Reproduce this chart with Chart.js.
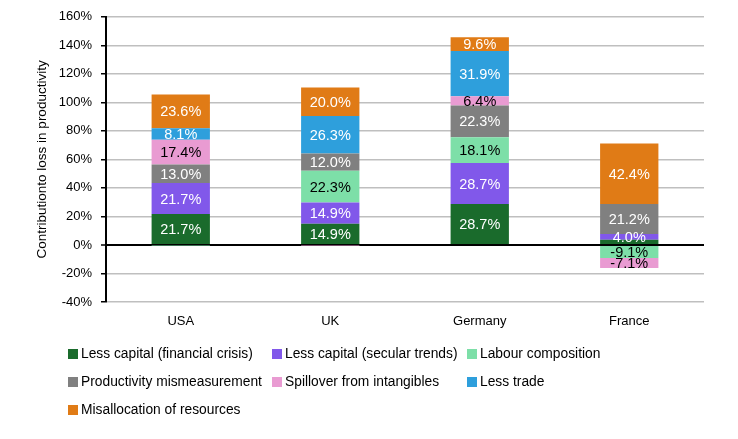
<!DOCTYPE html>
<html lang="en">
<head>
<meta charset="UTF-8">
<title>Contribution to loss in productivity</title>
<script src="https://cdn.jsdelivr.net/npm/chart.js"></script>
<style>
  body { margin: 0; background: #fff; }
  #wrap { position: relative; width: 738px; height: 439px; }
  #legend { position: absolute; left: 0; top: 0; width: 738px; height: 439px; pointer-events: none;
            font-family: "Liberation Sans", Arial, sans-serif; font-size: 13.8px; color: #000; }
  .item { position: absolute; white-space: nowrap; line-height: 16px; }
  .box { display: inline-block; width: 10px; height: 10px; margin-right: 3px; vertical-align: -1px; }
</style>
</head>
<body>
<div id="wrap">
  <canvas id="myChart" width="738" height="439"></canvas>
  <div id="legend"></div>
</div>

<script>
// data
const countries = ["USA", "UK", "Germany", "France"];

const lessCapitalCrisis  = [21.7, 14.9, 28.7, 3.6];
const lessCapitalSecular = [21.7, 14.9, 28.7, 4.0];
const labourComposition  = [-0.3, 22.3, 18.1, -9.1];
const mismeasurement     = [13.0, 12.0, 22.3, 21.2];
const spillover          = [17.4, -0.3, 6.4, -7.1];
const lessTrade          = [8.1, 26.3, 31.9, 0];
const misallocation      = [23.6, 20.0, 9.6, 42.4];

const yTicks = [-40, -20, 0, 20, 40, 60, 80, 100, 120, 140, 160];

const series = [
  { label: "Less capital (financial crisis)", data: lessCapitalCrisis, color: "#1a6b2c", text: "#fff" },
  { label: "Less capital (secular trends)", data: lessCapitalSecular, color: "#8158ea", text: "#fff" },
  { label: "Labour composition", data: labourComposition, color: "#7ddfa8", text: "#000" },
  { label: "Productivity mismeasurement", data: mismeasurement, color: "#808080", text: "#fff" },
  { label: "Spillover from intangibles", data: spillover, color: "#e99bd2", text: "#000" },
  { label: "Less trade", data: lessTrade, color: "#2e9fdc", text: "#fff" },
  { label: "Misallocation of resources", data: misallocation, color: "#e07b16", text: "#fff" }
];

const font = "Liberation Sans, Arial, sans-serif";

// labels inside the segments (no datalabels plugin available offline)
const segmentLabels = {
  id: "segmentLabels",
  afterDatasetsDraw(chart) {
    const ctx = chart.ctx;
    ctx.save();
    ctx.font = "14.5px " + font;
    ctx.textAlign = "center";
    ctx.textBaseline = "middle";
    chart.data.datasets.forEach((ds, i) => {
      const meta = chart.getDatasetMeta(i);
      meta.data.forEach((bar, j) => {
        const v = ds.data[j];
        if (Math.abs(v) < 3.8) return;
        ctx.fillStyle = series[i].text;
        ctx.fillText(v.toFixed(1) + "%", bar.x, (bar.y + bar.base) / 2 + 1);
      });
    });
    ctx.restore();
  }
};

const ctx = document.getElementById("myChart").getContext("2d");
const chart = new Chart(ctx, {
  type: "bar",
  data: {
    labels: countries,
    datasets: series.map(s => ({
      label: s.label,
      data: s.data,
      backgroundColor: s.color,
      borderWidth: 0,
      categoryPercentage: 1,
      barPercentage: 0.39
    }))
  },
  options: {
    responsive: false,
    animation: false,
    layout: { padding: { left: 34, right: 34, top: 15, bottom: 0 } },
    plugins: {
      legend: { display: false },
      tooltip: { enabled: false }
    },
    scales: {
      x: {
        stacked: true,
        grid: { display: false },
        border: { display: false },
        ticks: { color: "#000", font: { family: font, size: 13 }, padding: 4 },
        afterFit: s => { s.height = 137; }
      },
      y: {
        stacked: true,
        min: -40,
        max: 160,
        afterBuildTicks: s => { s.ticks = yTicks.map(v => ({ value: v })); },
        ticks: {
          color: "#000",
          font: { family: font, size: 13 },
          padding: 9,
          callback: v => v + "%"
        },
        grid: {
          color: c => c.tick && c.tick.value === 0 ? "#000" : "#bfbfbf",
          lineWidth: c => c.tick && c.tick.value === 0 ? 2 : 1.5,
          tickColor: "#000",
          tickLength: 5,
          tickWidth: 1.5
        },
        border: { display: true, color: "#000", width: 2 },
        title: {
          display: true,
          text: "Contributionto loss in productivity",
          color: "#000",
          font: { family: font, size: 13.5 },
          padding: { top: 0, bottom: 0 }
        },
        afterFit: s => { s.width = 72; }
      }
    }
  },
  plugins: [segmentLabels]
});

// legend laid out in fixed columns like the reference
const cols = [68, 272, 467];
const rows = [354, 382, 410];
const legend = document.getElementById("legend");
series.forEach((s, i) => {
  const el = document.createElement("div");
  el.className = "item";
  el.style.left = cols[i % 3] + "px";
  el.style.top = (rows[Math.floor(i / 3)] - 8) + "px";
  el.innerHTML = '<span class="box" style="background:' + s.color + '"></span>' + s.label;
  legend.appendChild(el);
});
</script>
</body>
</html>
